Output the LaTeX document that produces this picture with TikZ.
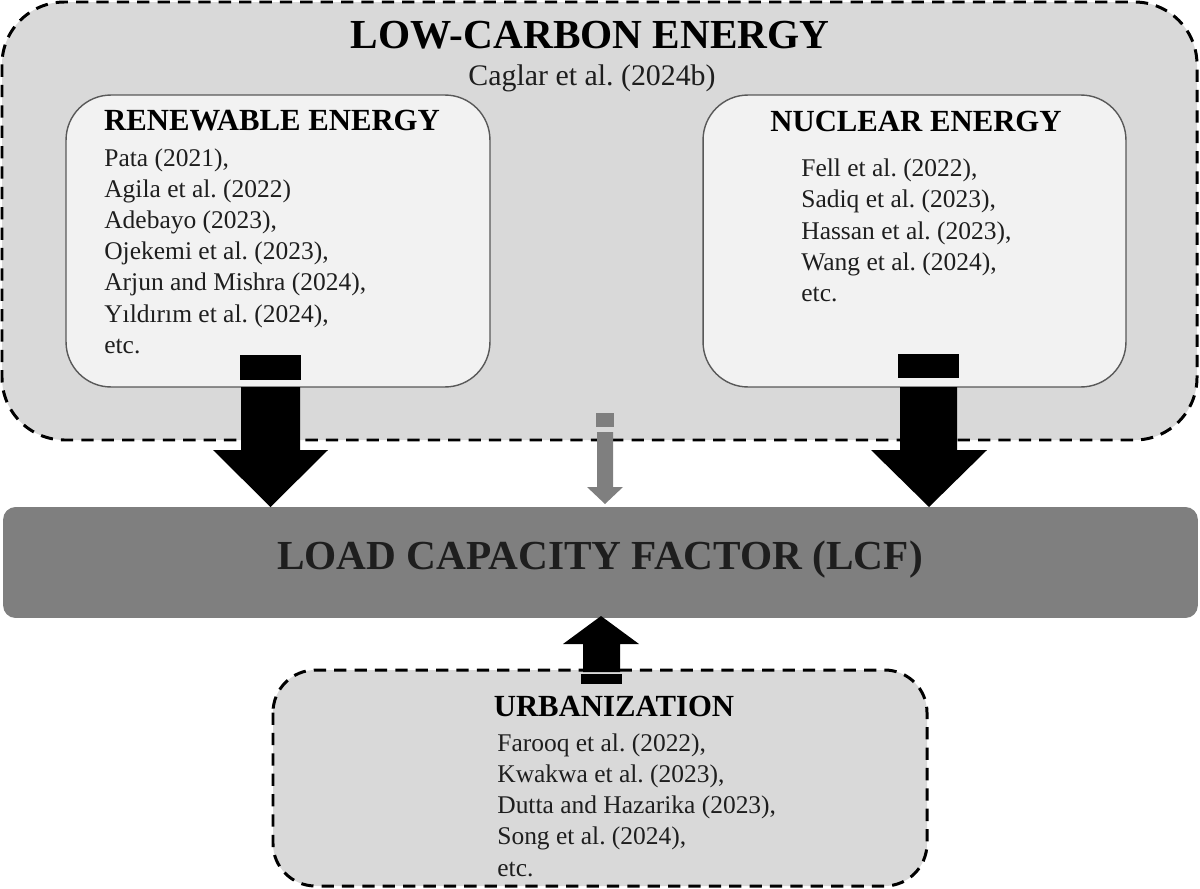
\documentclass[tikz,border=0pt]{standalone}
\usepackage{fontspec}
\setmainfont{Liberation Serif}
\frenchspacing
\definecolor{outerfill}{HTML}{D9D9D9}
\definecolor{innerfill}{HTML}{F2F2F2}
\definecolor{lcffill}{HTML}{7F7F7F}
\definecolor{innerline}{HTML}{595959}
\definecolor{txt}{HTML}{1E1E1E}
\tikzset{
  dashbox/.style={draw=black, line width=1.7pt, dash pattern=on 7pt off 4.6pt, fill=outerfill},
  innerbox/.style={draw=innerline, line width=0.8pt, fill=innerfill, rounded corners=0.9cm},
  bigtitle/.style={font=\fontsize{23.5}{28}\selectfont\bfseries, text=black, inner sep=0pt},
  header/.style={font=\fontsize{17.5}{21}\selectfont\bfseries, text=black, inner sep=0pt},
  reflist/.style={font=\fontsize{14.5}{17.75}\selectfont, text=txt, align=left, inner sep=0pt, anchor=west},
  blockarrow/.style={fill=black, draw=none},
  grayarrow/.style={fill=lcffill, draw=none}
}
\begin{document}
\begin{tikzpicture}[x=0.02cm, y=-0.02cm]
\useasboundingbox (0,0) rectangle (1200,889);
% outer low-carbon box
\draw[dashbox, rounded corners=1.25cm] (2,2) rectangle (1197,440);
\node[bigtitle] (title) at (590,35) {LOW-CARBON ENERGY};
\node[font=\fontsize{17}{20}\selectfont, text=txt, inner sep=0pt] (caglar) at (592,78) {Caglar et al. (2024b)};
% renewable box
\node[innerbox, minimum width=8.48cm, minimum height=5.84cm] (ren) at (278,241) {};
\node[header] (renh) at (272,121) {RENEWABLE ENERGY};
\node[reflist] (renl) at (104,251) {Pata (2021),\\Agila et al. (2022)\\Adebayo (2023),\\Ojekemi et al. (2023),\\Arjun and Mishra (2024),\\Yıldırım et al. (2024),\\etc.};
% nuclear box
\node[innerbox, minimum width=8.46cm, minimum height=5.84cm] (nuc) at (914.5,241) {};
\node[header] (nuch) at (916,121) {NUCLEAR ENERGY};
\node[reflist] (nucl) at (801,230.5) {Fell et al. (2022),\\Sadiq et al. (2023),\\Hassan et al. (2023),\\Wang et al. (2024),\\etc.};
% LCF bar
\node[fill=lcffill, rounded corners=0.25cm, minimum width=23.9cm, minimum height=2.22cm, inner sep=0pt] (lcf) at (600.5,562.5) {};
\node[bigtitle, text=txt] (lcft) at (600,560) {LOAD CAPACITY FACTOR (LCF)};
% urbanization box
\draw[dashbox, rounded corners=0.85cm] (273,670) rectangle (927,886);
\node[header] (urbh) at (614,706) {URBANIZATION};
\node[reflist] (urbl) at (497,805) {Farooq et al. (2022),\\Kwakwa et al. (2023),\\Dutta and Hazarika (2023),\\Song et al. (2024),\\etc.};
% arrows: renewable -> LCF
\coordinate (rentip) at (270.5,507);
\fill[blockarrow] (240,355) rectangle (301,380);
\fill[blockarrow] (241,387) -- (300,387) -- (300,450) -- (328,450) -- (rentip) -- (213,450) -- (241,450) -- cycle;
% nuclear -> LCF
\coordinate (nuctip) at (929,507);
\fill[blockarrow] (898,354) rectangle (959,378);
\fill[blockarrow] (900,387) -- (957,387) -- (957,450) -- (987,450) -- (nuctip) -- (871,450) -- (900,450) -- cycle;
% low-carbon (gray) -> LCF
\coordinate (graytip) at (605,504);
\fill[grayarrow] (596,413) rectangle (614,427);
\fill[grayarrow] (597,432) -- (613,432) -- (613,487) -- (623,487) -- (graytip) -- (587,487) -- (597,487) -- cycle;
% urbanization -> LCF
\coordinate (urbtip) at (601,616);
\fill[blockarrow] (581,674) rectangle (622,684);
\fill[blockarrow] (583,672) -- (620,672) -- (620,644) -- (639,644) -- (urbtip) -- (563,644) -- (583,644) -- cycle;
\end{tikzpicture}
\end{document}
